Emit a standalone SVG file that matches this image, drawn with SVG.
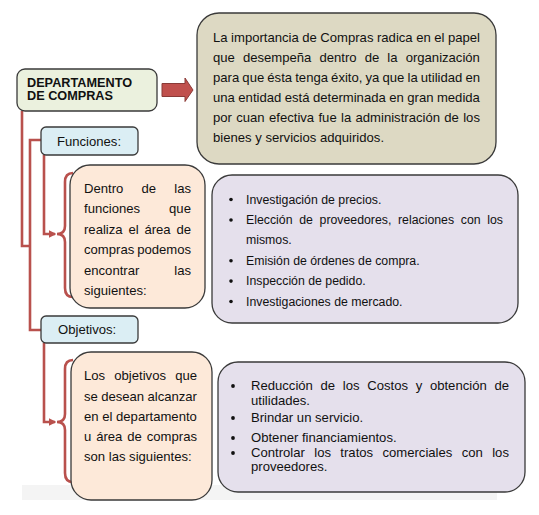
<svg xmlns="http://www.w3.org/2000/svg" width="539" height="515" viewBox="0 0 539 515">
<style>
text{font-family:"Liberation Sans",Arial,sans-serif;fill:#111;}
.t{font-size:13.1px;}
.s{font-size:12.3px;}
.box{stroke:#3a3a3a;stroke-width:1.3;}
.con{fill:none;stroke:#b9514d;stroke-width:2.6;}
.dot{fill:#111;}
</style>
<defs>
<marker id="ah" viewBox="0 0 6 6" refX="5" refY="3" markerWidth="3" markerHeight="3" orient="auto" markerUnits="strokeWidth">
<path d="M0,0 L6,3 L0,6 Z" fill="#b9514d"/>
</marker>
</defs>
<rect width="539" height="515" fill="#fff"/>
<rect x="22" y="485" width="475" height="15" fill="#f4f4f4"/>

<g id="connectors">
<path class="con" d="M22,111 V246 H30"/>
<path class="con" d="M41,140 H30 V330 H41"/>
<path class="con" d="M44,155 V234 H55" marker-end="url(#ah)"/>
<path class="con" d="M44,343 V422 H55" marker-end="url(#ah)"/>
<path class="con" d="M73,173 Q65,173 65,182 V226 Q65,234 57,234 Q65,234 65,242 V288 Q65,297 73,297"/>
<path class="con" d="M73,360 Q65,360 65,369 V414 Q65,422 57,422 Q65,422 65,430 V473 Q65,482 73,482"/>
<path d="M162,83.5 H185 V78 L193,90 L185,101.5 V96.5 H162 Z" fill="#c0504d" stroke="#8a3a37" stroke-width="1"/>
</g>

<g id="intro">
<rect class="box" x="197" y="13" width="299" height="151" rx="22" fill="#ddd9c3"/>
<text class="t" x="213" y="42" word-spacing="-0.13">La importancia de Compras radica en el papel</text>
<text class="t" x="213" y="62" word-spacing="4.46">que desempeña dentro de la organización</text>
<text class="t" x="213" y="82" word-spacing="-0.5">para que ésta tenga éxito, ya que la utilidad en</text>
<text class="t" x="213" y="102" word-spacing="-0.17">una entidad está determinada en gran medida</text>
<text class="t" x="213" y="122" word-spacing="0.7">por cuan efectiva fue la administración de los</text>
<text class="t" x="213" y="142">bienes y servicios adquiridos.</text>
</g>

<g id="departamento">
<rect class="box" x="17" y="69" width="140" height="42" rx="8" fill="#ebf1de"/>
<text x="27" y="87" font-size="12.7" font-weight="bold">DEPARTAMENTO</text>
<text x="27" y="100" font-size="12.7" font-weight="bold">DE COMPRAS</text>
</g>

<g id="funciones">
<rect class="box" x="41" y="127" width="97" height="28" rx="5" fill="#dbeef4"/>
<text class="t" x="57" y="145.5">Funciones:</text>
</g>

<g id="funciones-desc">
<rect class="box" x="70" y="165" width="135" height="143" rx="20" fill="#fde9d9"/>
<text class="t" x="84" y="192.5" word-spacing="14.55">Dentro de las</text>
<text class="t" x="84" y="213" word-spacing="25.4">funciones que</text>
<text class="t" x="84" y="233.5" word-spacing="2.17">realiza el área de</text>
<text class="t" x="84" y="254" word-spacing="-0.7">compras podemos</text>
<text class="t" x="84" y="274.5" word-spacing="31.3">encontrar las</text>
<text class="t" x="84" y="295">siguientes:</text>
</g>

<g id="funciones-list">
<rect class="box" x="212" y="175" width="306" height="148" rx="20" fill="#e5e0ec"/>
<circle class="dot" cx="231" cy="199.5" r="1.8"/>
<text class="s" x="246" y="203.5">Investigación de precios.</text>
<circle class="dot" cx="231" cy="220" r="1.8"/>
<text class="s" x="246" y="224" word-spacing="3.28">Elección de proveedores, relaciones con los</text>
<text class="s" x="246" y="244.3">mismos.</text>
<circle class="dot" cx="231" cy="260.7" r="1.8"/>
<text class="s" x="246" y="264.7">Emisión de órdenes de compra.</text>
<circle class="dot" cx="231" cy="281.1" r="1.8"/>
<text class="s" x="246" y="285.1">Inspección de pedido.</text>
<circle class="dot" cx="231" cy="301.5" r="1.8"/>
<text class="s" x="246" y="305.5">Investigaciones de mercado.</text>
</g>

<g id="objetivos">
<rect class="box" x="41" y="316" width="97" height="27" rx="5" fill="#dbeef4"/>
<text class="t" x="58" y="334">Objetivos:</text>
</g>

<g id="objetivos-desc">
<rect class="box" x="71" y="352" width="141" height="148" rx="20" fill="#fde9d9"/>
<text class="t" x="84" y="380" word-spacing="5.55">Los objetivos que</text>
<text class="t" x="84" y="400.5" word-spacing="-0.3">se desean alcanzar</text>
<text class="t" x="84" y="420.5">en el departamento</text>
<text class="t" x="84" y="440.5" word-spacing="1.27">u área de compras</text>
<text class="t" x="84" y="461">son las siguientes:</text>
</g>

<g id="objetivos-list">
<rect class="box" x="218" y="362" width="307" height="130" rx="20" fill="#e5e0ec"/>
<circle class="dot" cx="233" cy="386" r="1.9"/>
<text class="t" x="251" y="390" word-spacing="4.05">Reducción de los Costos y obtención de</text>
<text class="t" x="251" y="404.5">utilidades.</text>
<circle class="dot" cx="233" cy="418" r="1.9"/>
<text class="t" x="251" y="422">Brindar un servicio.</text>
<circle class="dot" cx="233" cy="438" r="1.9"/>
<text class="t" x="251" y="442">Obtener financiamientos.</text>
<circle class="dot" cx="233" cy="453" r="1.9"/>
<text class="t" x="251" y="457" word-spacing="5.74">Controlar los tratos comerciales con los</text>
<text class="t" x="251" y="471">proveedores.</text>
</g>
</svg>
